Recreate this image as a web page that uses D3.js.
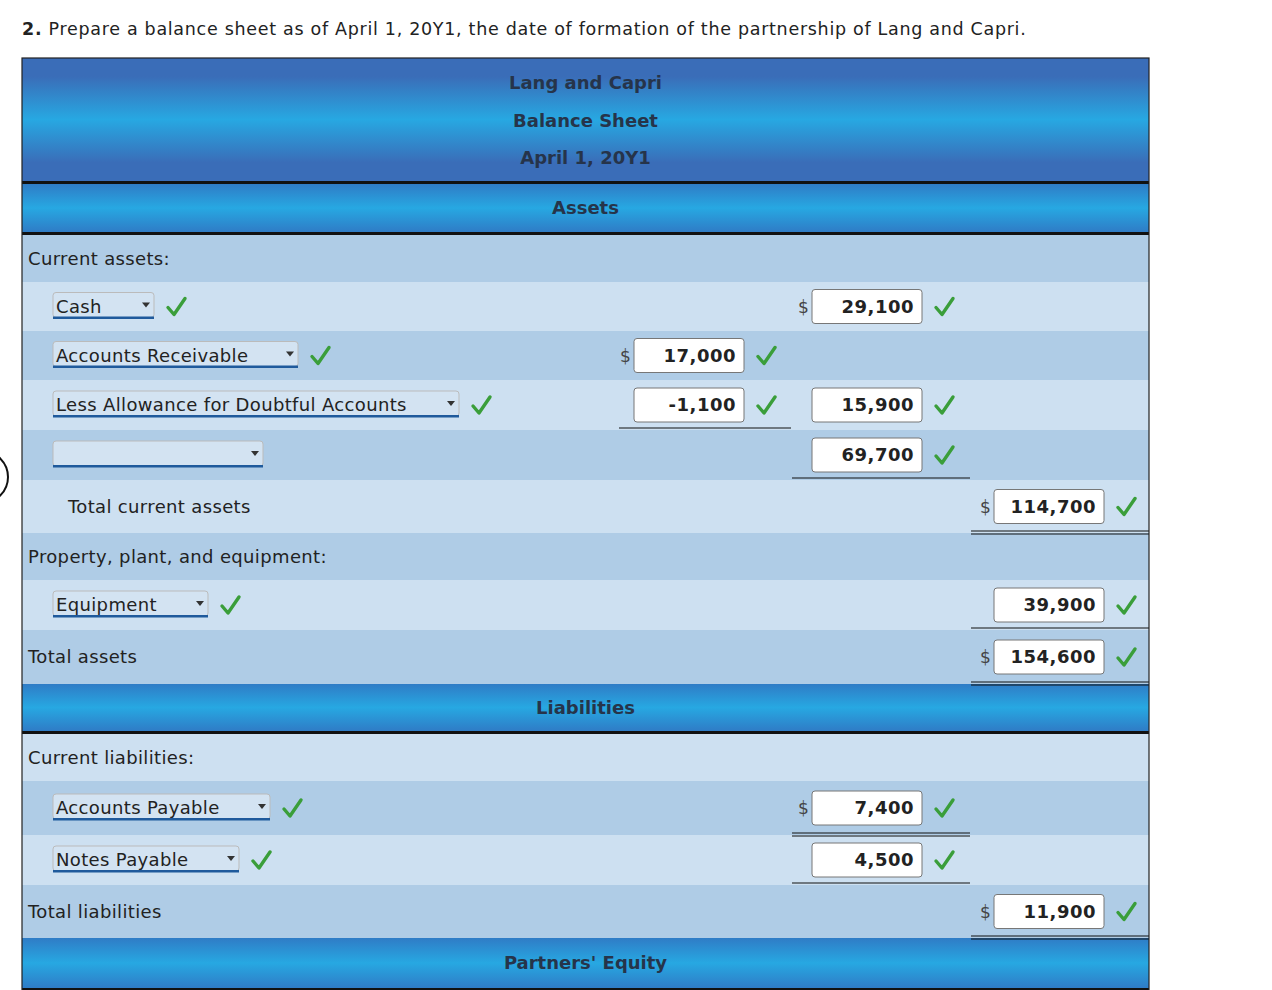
<!DOCTYPE html>
<html><head><meta charset="utf-8">
<script src="https://cdn.jsdelivr.net/npm/d3@7"></script>
<style>body{margin:0;background:#fff;font-family:"DejaVu Sans",Verdana,sans-serif}</style>
</head><body><div id="chart"></div>
<script>
const titleLines = ["Lang and Capri", "Balance Sheet", "April 1, 20Y1"];
// row kinds: band = section header, label = plain text, select = dropdown row
const rowKinds = ["band","label","select","select","select","select","total","label","select","label","band","label","select","select","label","band"];
const rowLabels = ["Assets","Current assets:","Cash","Accounts Receivable","Less Allowance for Doubtful Accounts","","Total current assets","Property, plant, and equipment:","Equipment","Total assets","Liabilities","Current liabilities:","Accounts Payable","Notes Payable","Total liabilities","Partners' Equity"];
const rowCol = [null,null,2,1,1,2,3,null,3,3,null,null,2,2,3,null];
const rowValues = [null,null,"29,100","17,000","-1,100","69,700","114,700",null,"39,900","154,600",null,null,"7,400","4,500","11,900",null];
const rowDollar = [false,false,true,true,false,false,true,false,false,true,false,false,true,false,true,false];
const extraVal = [null,null,null,null,"15,900",null,null,null,null,null,null,null,null,null,null,null];
const underline = [null,null,null,null,"single1","single2","double3",null,"single3","double3",null,null,"double2","single2","double3",null];
const selectWidths = [0,0,101,245,406,210,0,0,155,0,0,0,217,186,0,0];
const rowHeights = [48,47,49,49,50,50,53,47,50,54,47,47,54,50,53,50];

const W = 1272, H = 990, L = 22, R = 1149;
const svg = d3.select("#chart").append("svg").attr("width", W).attr("height", H)
  .style("font-family", "'DejaVu Sans', Verdana, sans-serif");

svg.append("text").attr("x", 22).attr("y", 35).attr("font-size", 17.5).attr("fill", "#222")
  .style("letter-spacing", "0.7px")
  .html('<tspan font-weight="bold">2.</tspan> Prepare a balance sheet as of April 1, 20Y1, the date of formation of the partnership of Lang and Capri.');

const defs = svg.append("defs");
const g = defs.append("linearGradient").attr("id", "band").attr("x1", 0).attr("x2", 0).attr("y1", 0).attr("y2", 1);
[[0,"#3a6db8"],[0.15,"#3a6db8"],[0.5,"#27a8e2"],[0.85,"#3a6db8"],[1,"#3a6db8"]].forEach(([o,c]) =>
  g.append("stop").attr("offset", o).attr("stop-color", c));
const g2 = defs.append("linearGradient").attr("id", "band2").attr("x1", 0).attr("x2", 0).attr("y1", 0).attr("y2", 1);
[[0,"#2f7cc6"],[0.5,"#27a8e2"],[1,"#2f7cc6"]].forEach(([o,c]) =>
  g2.append("stop").attr("offset", o).attr("stop-color", c));

function check(x, y) {
  svg.append("path").attr("d", `M${x - 8},${y + 1}l6,7l11,-16`).attr("fill", "none")
    .attr("stroke", "#3a9e3a").attr("stroke-width", 3.4).attr("stroke-linecap", "round").attr("stroke-linejoin", "round");
}

// header
const tableTop = 58, headH = 123;
svg.append("rect").attr("x", L).attr("y", tableTop).attr("width", R - L).attr("height", headH).attr("fill", "url(#band)");
const ty = d3.scalePoint().domain(titleLines).range([89, 164]);
svg.selectAll(".title").data(titleLines).enter().append("text")
  .attr("x", (L + R) / 2).attr("y", d => ty(d)).attr("text-anchor", "middle")
  .attr("font-size", 18).attr("font-weight", "bold").attr("fill", "#26344a").text(d => d);
svg.append("rect").attr("x", L).attr("y", tableTop + headH).attr("width", R - L).attr("height", 3).attr("fill", "#111");

// rows
const ys = [];
let yy = tableTop + headH + 3;
rowHeights.forEach((h, i) => { ys.push(yy); yy += h + (rowKinds[i] === "band" ? 3 : 0); });

const colRight = d3.scaleOrdinal().domain([1,2,3]).range([744, 922, 1104]);
const boxW = 110, boxH = 34;

let shade = 0;
rowKinds.forEach((k, i) => {
  const y = ys[i], h = rowHeights[i], cy = y + h / 2;
  if (k === "band") {
    svg.append("rect").attr("x", L).attr("y", y).attr("width", R - L).attr("height", h).attr("fill", "url(#band2)");
    svg.append("rect").attr("x", L).attr("y", y + h).attr("width", R - L).attr("height", 3).attr("fill", "#111");
    svg.append("text").attr("x", (L + R) / 2).attr("y", cy + 6).attr("text-anchor", "middle")
      .attr("font-size", 18).attr("font-weight", "bold").attr("fill", "#26344a").text(rowLabels[i]);
    shade = rowLabels[i] === "Liabilities" ? 1 : 0;
    return;
  }
  svg.append("rect").attr("x", L).attr("y", y).attr("width", R - L).attr("height", h)
    .attr("fill", shade % 2 === 0 ? "#afcce6" : "#cde0f1");
  shade++;
  if (k === "label" || k === "total") {
    svg.append("text").attr("x", k === "total" ? 68 : 28).attr("y", cy + 6).attr("font-size", 18)
      .style("letter-spacing", "0.35px").attr("fill", "#222").text(rowLabels[i]);
  } else {
    const sw = selectWidths[i];
    svg.append("rect").attr("x", 53).attr("y", cy - 14).attr("width", sw).attr("height", 25).attr("rx", 3)
      .attr("fill", "#d3e3f2").attr("stroke", "#bbb");
    svg.append("rect").attr("x", 53).attr("y", cy + 10).attr("width", sw).attr("height", 2.5).attr("fill", "#1f5a9c");
    svg.append("text").attr("x", 56).attr("y", cy + 6).attr("font-size", 18).attr("fill", "#222")
      .style("letter-spacing", "0.35px").text(rowLabels[i]);
    svg.append("path").attr("d", `M${53 + sw - 12},${cy - 4}h8l-4,5z`).attr("fill", "#333");
    if (rowLabels[i]) check(53 + sw + 22, cy);
  }
  const drawBox = (col, val, dollar) => {
    const xr = colRight(col);
    svg.append("rect").attr("x", xr - boxW).attr("y", cy - boxH / 2).attr("width", boxW).attr("height", boxH)
      .attr("rx", 3).attr("fill", "#fff").attr("stroke", "#777");
    svg.append("text").attr("x", xr - 8).attr("y", cy + 6).attr("text-anchor", "end").attr("font-size", 18)
      .attr("font-weight", "bold").attr("fill", "#222").style("letter-spacing", "0.5px").text(val);
    if (dollar) svg.append("text").attr("x", xr - boxW - 14).attr("y", cy + 6).attr("font-size", 17)
      .attr("fill", "#444").text("$");
    check(xr + 22, cy);
  };
  if (rowValues[i]) drawBox(rowCol[i], rowValues[i], rowDollar[i]);
  if (extraVal[i]) drawBox(2, extraVal[i], false);
});

// underlines drawn last so the next row does not cover them
underline.forEach((u, i) => {
  if (!u) return;
  const col = +u.slice(-1);
  const x0 = col === 1 ? 619 : col === 2 ? 792 : 971, x1 = col === 1 ? 791 : col === 2 ? 970 : R;
  const ly = ys[i] + rowHeights[i] - 2;
  svg.append("line").attr("x1", x0).attr("x2", x1).attr("y1", ly).attr("y2", ly).attr("stroke", "#111").attr("stroke-width", 1.2);
  if (u.startsWith("double")) svg.append("line").attr("x1", x0).attr("x2", x1).attr("y1", ly + 3).attr("y2", ly + 3).attr("stroke", "#111").attr("stroke-width", 1.2);
});

// table frame
svg.append("rect").attr("x", L).attr("y", tableTop).attr("width", R - L).attr("height", H - tableTop + 5)
  .attr("fill", "none").attr("stroke", "#222").attr("stroke-width", 1.2);
svg.append("circle").attr("cx", -18).attr("cy", 477).attr("r", 26).attr("fill", "none").attr("stroke", "#111").attr("stroke-width", 2);
</script></body></html>
